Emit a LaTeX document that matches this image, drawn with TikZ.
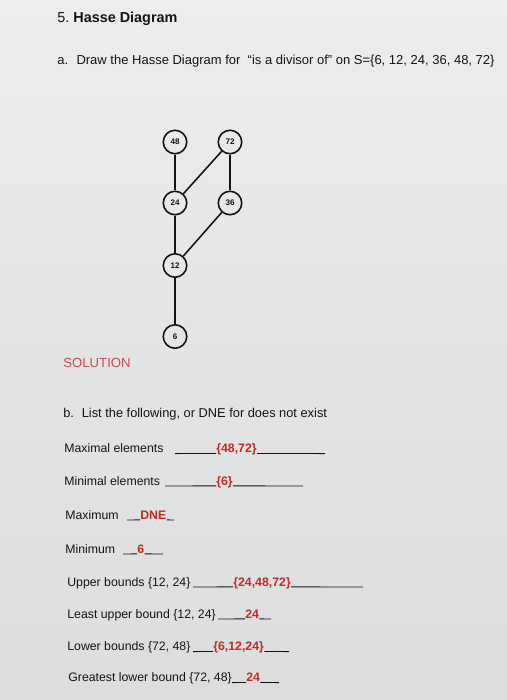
\documentclass[tikz,border=0pt]{standalone}
\usepackage{fontspec}
\setmainfont{Liberation Sans}
\usetikzlibrary{positioning}
\definecolor{papertop}{RGB}{236,237,237}
\definecolor{paperbot}{RGB}{219,221,222}
\definecolor{ink}{RGB}{20,20,20}
\definecolor{answer}{RGB}{196,42,38}
\definecolor{solred}{RGB}{214,70,82}
\tikzset{%
  hnode/.style={draw=ink,shape=circle,line width=0.9pt,minimum size=0.47cm,inner sep=0,
    text=ink,font=\fontsize{4.6}{5}\selectfont\bfseries},
  hedge/.style={draw=ink,line width=0.9pt},
  txt/.style={anchor=base west,inner sep=0,text=ink,font=\fontsize{7}{8}\selectfont},
  ans/.style={anchor=base west,inner sep=0,text=answer,font=\fontsize{7}{8}\selectfont\bfseries},
  blank/.style={draw=ink,line width=0.45pt}
}

\begin{document}
\begin{tikzpicture}[x=0.02cm,y=-0.02cm]
    \shade[top color=papertop,bottom color=paperbot] (0,0) rectangle (507,700);
    \useasboundingbox (0,0) rectangle (507,700);
    % headings
    \node[txt,font=\fontsize{8.2}{9}\selectfont] (title) at (57,22) {5.\ \textbf{Hasse Diagram}};
    \node[txt,font=\fontsize{7.4}{9}\selectfont] (parta) at (57,64)
      {a.\hspace{0.07cm} Draw the Hasse Diagram for \ “is a divisor of” on S=\{6, 12, 24, 36, 48, 72\}};
    % hasse diagram
    \path[every node/.style={hnode}]
      (175,142) node (n48){48}
      (230,142) node (n72){72}
      (175,203) node (n24){24}
      (230,203) node (n36){36}
      (175,265.5) node (n12){12}
      (175,336.5) node (n6){6};
    \draw[hedge] (n48) -- (n24);
    \draw[hedge] (n72) -- (n24);
    \draw[hedge] (n72) -- (n36);
    \draw[hedge] (n24) -- (n12);
    \draw[hedge] (n36) -- (n12);
    \draw[hedge] (n12) -- (n6);
    \node[txt,text=solred,font=\fontsize{7.5}{9}\selectfont] (sol) at (63,367) {SOLUTION};
    \node[txt,font=\fontsize{7.3}{9}\selectfont] (partb) at (63,417)
      {b.\hspace{0.06cm} List the following, or DNE for does not exist};
    % answers
    \node[txt] (maxl) at (64,452.7) {Maximal elements};
    \node[ans] (maxa) at (216,452.7) {\{48,72\}};
    \draw[blank] (175,453.6) -- ([yshift=-0.5pt]maxa.base west);
    \draw[blank] ([yshift=-0.5pt]maxa.base east) -- (325,453.6);

    \node[txt] (minl) at (64,485) {Minimal elements};
    \node[ans] (mina) at (216,485) {\{6\}};
    \draw[blank] (165,485.9) -- ([yshift=-0.5pt]mina.base west);
    \draw[blank] ([yshift=-0.5pt]mina.base east) -- (303,485.9);

    \node[txt] (maxml) at (65,519) {Maximum};
    \node[ans] (maxma) at (140,519) {DNE};
    \draw[blank] (127,519.9) -- ([yshift=-0.5pt]maxma.base west);
    \draw[blank] ([yshift=-0.5pt]maxma.base east) -- (174,519.9);

    \node[txt] (minml) at (65,553) {Minimum};
    \node[ans] (minma) at (137,553) {6};
    \draw[blank] (123,553.9) -- ([yshift=-0.5pt]minma.base west);
    \draw[blank] ([yshift=-0.5pt]minma.base east) -- (163,553.9);

    \node[txt] (upl) at (67,586) {Upper bounds \{12, 24\}};
    \node[ans] (upa) at (233,586) {\{24,48,72\}};
    \draw[blank] (193,586.9) -- ([yshift=-0.5pt]upa.base west);
    \draw[blank] ([yshift=-0.5pt]upa.base east) -- (363,586.9);

    \node[txt] (lubl) at (67,618) {Least upper bound \{12, 24\}};
    \node[ans] (luba) at (245,618) {24};
    \draw[blank] (218,618.9) -- ([yshift=-0.5pt]luba.base west);
    \draw[blank] ([yshift=-0.5pt]luba.base east) -- (271,618.9);

    \node[txt] (lowl) at (67,650.7) {Lower bounds \{72, 48\}};
    \node[ans] (lowa) at (213,650.7) {\{6,12,24\}};
    \draw[blank] (193,651.6) -- ([yshift=-0.5pt]lowa.base west);
    \draw[blank] ([yshift=-0.5pt]lowa.base east) -- (289,651.6);

    \node[txt] (glbl) at (68,681.7) {Greatest lower bound \{72, 48\}};
    \node[ans] (glba) at (246,681.7) {24};
    \draw[blank] (232,682.6) -- ([yshift=-0.5pt]glba.base west);
    \draw[blank] ([yshift=-0.5pt]glba.base east) -- (279,682.6);
  \end{tikzpicture}
\end{document}
